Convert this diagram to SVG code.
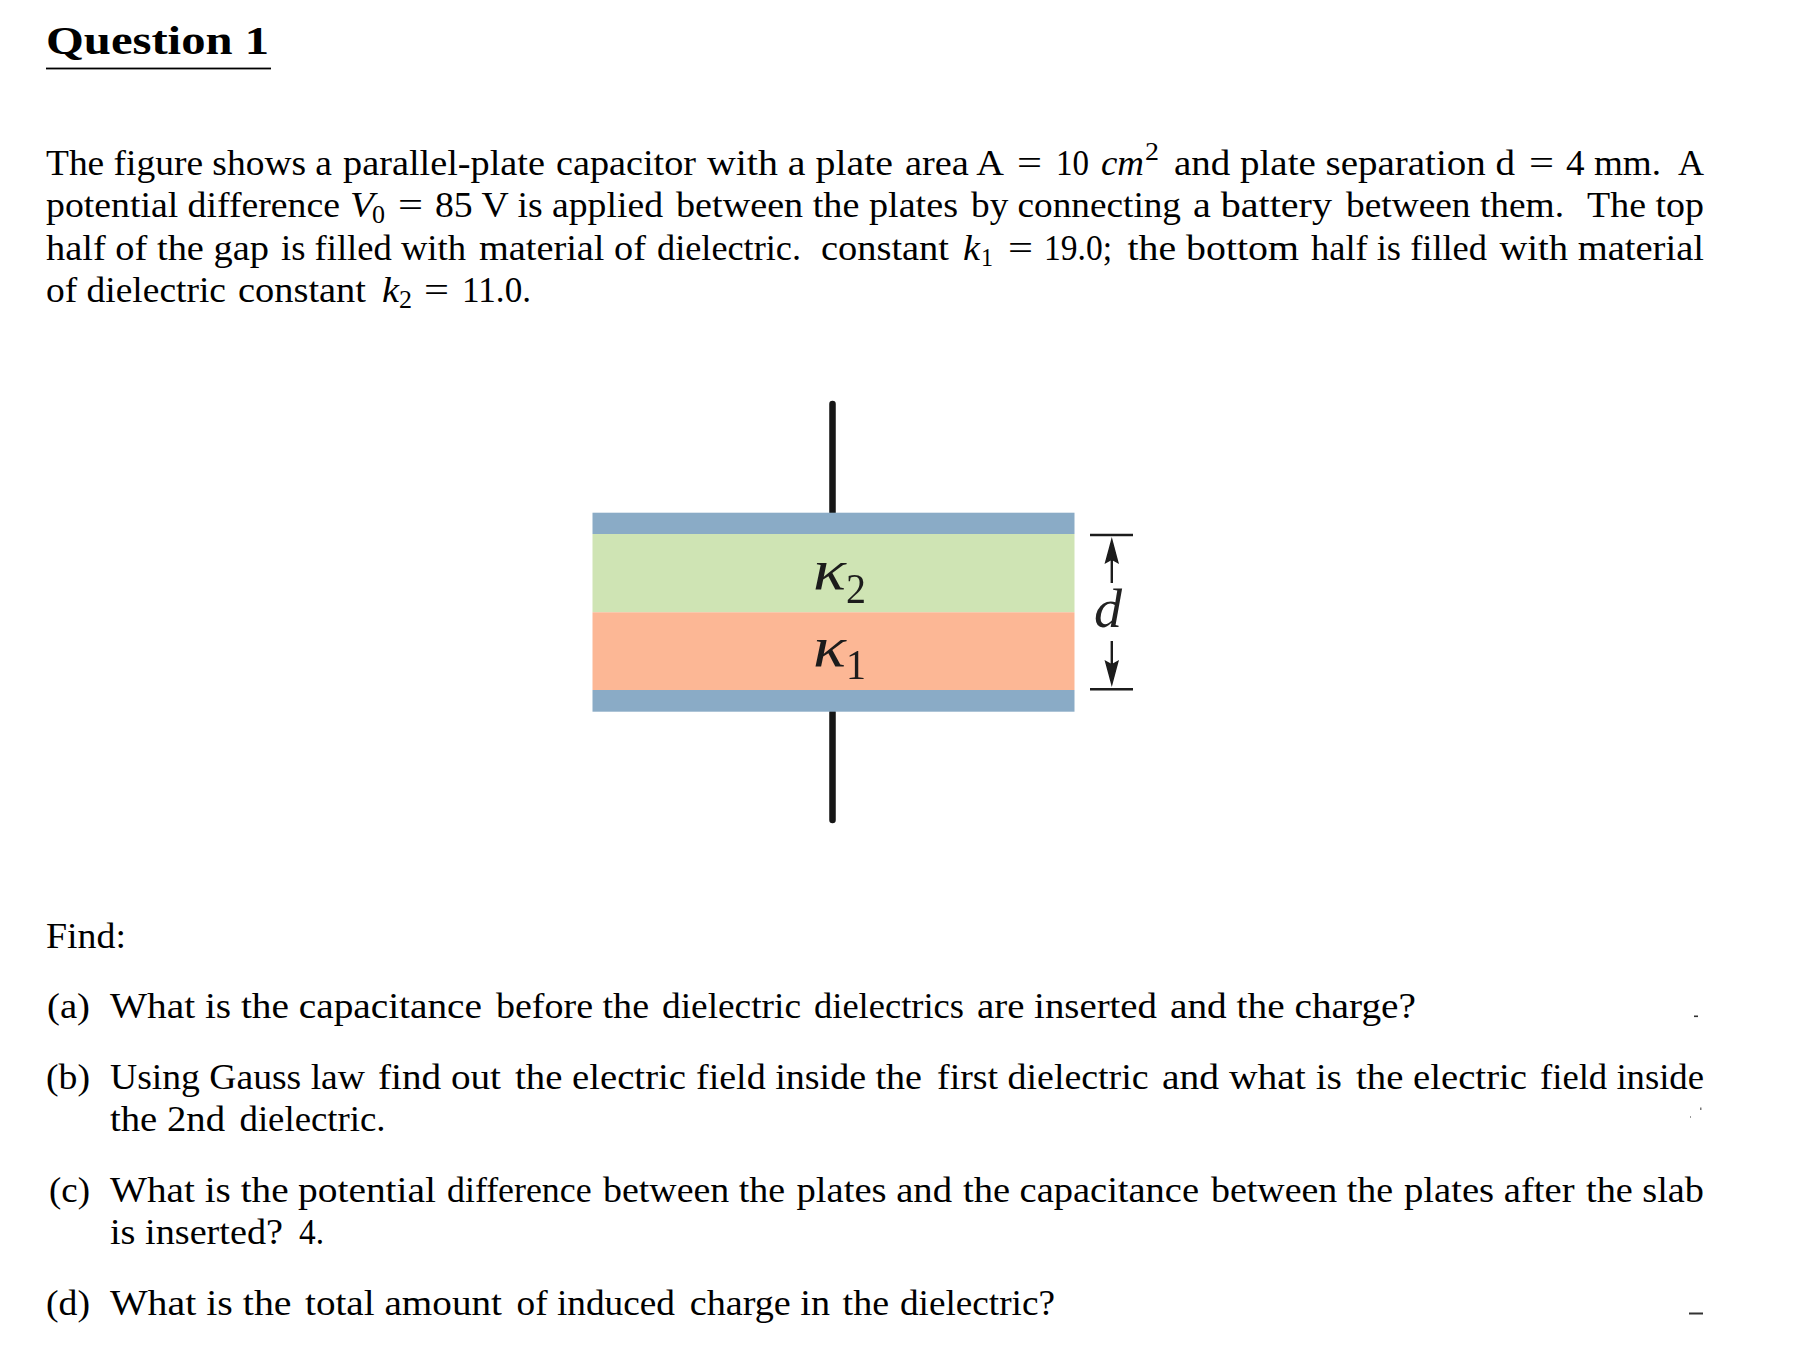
<svg xmlns="http://www.w3.org/2000/svg" width="1810" height="1346" viewBox="0 0 1810 1346">
<style>
text{font-family:"Liberation Serif","Times New Roman",serif;fill:#000;lengthAdjust:spacingAndGlyphs}
.b{font-size:35px}
.i{font-size:35px;font-style:italic}
.s{font-size:26px}
.t{font-size:41px;font-weight:bold}
.kap{font-size:58px;font-style:italic;fill:#1a1a1a}
.ksub{font-size:42px;fill:#1a1a1a}
.dlab{font-size:54px;font-style:italic;fill:#222}
.wire{stroke:#151515;stroke-width:6.5;stroke-linecap:round;fill:none}
.dim{stroke:#1a1a1a;stroke-width:2.4;fill:none}
.plate{fill:#8aabc6}
</style>
<defs><filter id="soft" x="-5%" y="-5%" width="110%" height="110%"><feGaussianBlur stdDeviation="0.55"/></filter></defs>
<rect width="1810" height="1346" fill="#fff"/>
<g id="title">
<text class="t" x="46" y="54" textLength="223" lengthAdjust="spacingAndGlyphs">Question 1</text>
<rect x="46" y="67.6" width="225" height="1.8" fill="#000"/>
</g>
<g id="statement">
<text class="b" x="46" y="175" textLength="286" lengthAdjust="spacingAndGlyphs">The figure shows a</text>
<text class="b" x="343" y="175" textLength="202" lengthAdjust="spacingAndGlyphs">parallel-plate</text>
<text class="b" x="556" y="175" textLength="140" lengthAdjust="spacingAndGlyphs">capacitor</text>
<text class="b" x="707" y="175" textLength="186" lengthAdjust="spacingAndGlyphs">with a plate</text>
<text class="b" x="905" y="175" textLength="99" lengthAdjust="spacingAndGlyphs">area A</text>
<text class="b" x="1017" y="175" textLength="25" lengthAdjust="spacingAndGlyphs">=</text>
<text class="b" x="1056" y="175" textLength="33" lengthAdjust="spacingAndGlyphs">10</text>
<text class="i" x="1101" y="175" textLength="43" lengthAdjust="spacingAndGlyphs">cm</text>
<text class="s" x="1145" y="160" textLength="14" lengthAdjust="spacingAndGlyphs">2</text>
<text class="b" x="1174" y="175" textLength="341" lengthAdjust="spacingAndGlyphs">and plate separation d</text>
<text class="b" x="1529" y="175" textLength="25" lengthAdjust="spacingAndGlyphs">=</text>
<text class="b" x="1566" y="175" textLength="95" lengthAdjust="spacingAndGlyphs">4 mm.</text>
<text class="b" x="1678" y="175" textLength="26" lengthAdjust="spacingAndGlyphs">A</text>

<text class="b" x="46" y="217.3" textLength="294" lengthAdjust="spacingAndGlyphs">potential difference</text>
<text class="i" x="350" y="217.3" textLength="24" lengthAdjust="spacingAndGlyphs">V</text>
<text class="s" x="372" y="223" textLength="13" lengthAdjust="spacingAndGlyphs">0</text>
<text class="b" x="398" y="217.3" textLength="25" lengthAdjust="spacingAndGlyphs">=</text>
<text class="b" x="435" y="217.3" textLength="228" lengthAdjust="spacingAndGlyphs">85 V is applied</text>
<text class="b" x="676" y="217.3" textLength="282" lengthAdjust="spacingAndGlyphs">between the plates</text>
<text class="b" x="971" y="217.3" textLength="210" lengthAdjust="spacingAndGlyphs">by connecting</text>
<text class="b" x="1193" y="217.3" textLength="139" lengthAdjust="spacingAndGlyphs">a battery</text>
<text class="b" x="1346" y="217.3" textLength="218" lengthAdjust="spacingAndGlyphs">between them.</text>
<text class="b" x="1587" y="217.3" textLength="117" lengthAdjust="spacingAndGlyphs">The top</text>

<text class="b" x="46" y="259.8" textLength="223" lengthAdjust="spacingAndGlyphs">half of the gap</text>
<text class="b" x="281" y="259.8" textLength="185" lengthAdjust="spacingAndGlyphs">is filled with</text>
<text class="b" x="479" y="259.8" textLength="167" lengthAdjust="spacingAndGlyphs">material of</text>
<text class="b" x="657" y="259.8" textLength="144" lengthAdjust="spacingAndGlyphs">dielectric.</text>
<text class="b" x="821" y="259.8" textLength="128" lengthAdjust="spacingAndGlyphs">constant</text>
<text class="i" x="963" y="259.8" textLength="17" lengthAdjust="spacingAndGlyphs">k</text>
<text class="s" x="981" y="266" textLength="12" lengthAdjust="spacingAndGlyphs">1</text>
<text class="b" x="1008" y="259.8" textLength="25" lengthAdjust="spacingAndGlyphs">=</text>
<text class="b" x="1044" y="259.8" textLength="68" lengthAdjust="spacingAndGlyphs">19.0;</text>
<text class="b" x="1127.5" y="259.8" textLength="171.5" lengthAdjust="spacingAndGlyphs">the bottom</text>
<text class="b" x="1311" y="259.8" textLength="176" lengthAdjust="spacingAndGlyphs">half is filled</text>
<text class="b" x="1499.5" y="259.8" textLength="204.5" lengthAdjust="spacingAndGlyphs">with material</text>

<text class="b" x="46" y="302" textLength="180" lengthAdjust="spacingAndGlyphs">of dielectric</text>
<text class="b" x="238" y="302" textLength="128" lengthAdjust="spacingAndGlyphs">constant</text>
<text class="i" x="382" y="302" textLength="17" lengthAdjust="spacingAndGlyphs">k</text>
<text class="s" x="399" y="308" textLength="13" lengthAdjust="spacingAndGlyphs">2</text>
<text class="b" x="424" y="302" textLength="25" lengthAdjust="spacingAndGlyphs">=</text>
<text class="b" x="462" y="302" textLength="69" lengthAdjust="spacingAndGlyphs">11.0.</text>
</g>
<g id="capacitor" filter="url(#soft)">
<g id="connectors">
<line class="wire" x1="832.5" y1="404" x2="832.5" y2="513"/>
<line class="wire" x1="832.5" y1="712" x2="832.5" y2="820"/>
</g>
<g id="dielectric-k2">
<rect x="592.5" y="534" width="482" height="78.3" fill="#cfe4b4"/>
<text class="kap" x="813" y="589" textLength="33" lengthAdjust="spacingAndGlyphs">κ</text>
<text class="ksub" x="846" y="603.3" textLength="20" lengthAdjust="spacingAndGlyphs">2</text>
</g>
<g id="dielectric-k1">
<rect x="592.5" y="612.3" width="482" height="77.7" fill="#fcb795"/>
<text class="kap" x="813" y="666" textLength="33" lengthAdjust="spacingAndGlyphs">κ</text>
<text class="ksub" x="846" y="679.3" textLength="20" lengthAdjust="spacingAndGlyphs">1</text>
</g>
<g id="top-plate"><rect class="plate" x="592.5" y="512.7" width="482" height="21.3"/></g>
<g id="bottom-plate"><rect class="plate" x="592.5" y="690" width="482" height="21.7"/></g>
<g id="dimension-d">
<line class="dim" x1="1090" y1="535" x2="1133" y2="535"/>
<line class="dim" x1="1090" y1="689.3" x2="1133" y2="689.3"/>
<line class="dim" x1="1111.8" y1="555" x2="1111.8" y2="583"/>
<line class="dim" x1="1111.8" y1="641" x2="1111.8" y2="668"/>
<polygon points="1111.8,537 1119,564 1111.8,560 1104.5,564" fill="#1a1a1a"/>
<polygon points="1111.8,687 1119,660 1111.8,664 1104.5,660" fill="#1a1a1a"/>
<text class="dlab" x="1094" y="627" textLength="28" lengthAdjust="spacingAndGlyphs">d</text>
</g>
</g>
<g id="questions">
<text class="b" x="46" y="948" textLength="80" lengthAdjust="spacingAndGlyphs">Find:</text>
<text class="b" x="47" y="1017.5" textLength="43" lengthAdjust="spacingAndGlyphs">(a)</text>
<text class="b" x="110" y="1017.5" textLength="372" lengthAdjust="spacingAndGlyphs">What is the capacitance</text>
<text class="b" x="496" y="1017.5" textLength="153" lengthAdjust="spacingAndGlyphs">before the</text>
<text class="b" x="662" y="1017.5" textLength="139" lengthAdjust="spacingAndGlyphs">dielectric</text>
<text class="b" x="814" y="1017.5" textLength="150" lengthAdjust="spacingAndGlyphs">dielectrics</text>
<text class="b" x="977" y="1017.5" textLength="180" lengthAdjust="spacingAndGlyphs">are inserted</text>
<text class="b" x="1170" y="1017.5" textLength="246" lengthAdjust="spacingAndGlyphs">and the charge?</text>

<text class="b" x="46" y="1089" textLength="44" lengthAdjust="spacingAndGlyphs">(b)</text>
<text class="b" x="110" y="1089" textLength="255" lengthAdjust="spacingAndGlyphs">Using Gauss law</text>
<text class="b" x="378" y="1089" textLength="123" lengthAdjust="spacingAndGlyphs">find out</text>
<text class="b" x="515" y="1089" textLength="171" lengthAdjust="spacingAndGlyphs">the electric</text>
<text class="b" x="696" y="1089" textLength="226" lengthAdjust="spacingAndGlyphs">field inside the</text>
<text class="b" x="937" y="1089" textLength="211.6" lengthAdjust="spacingAndGlyphs">first dielectric</text>
<text class="b" x="1162" y="1089" textLength="180" lengthAdjust="spacingAndGlyphs">and what is</text>
<text class="b" x="1356" y="1089" textLength="171" lengthAdjust="spacingAndGlyphs">the electric</text>
<text class="b" x="1540" y="1089" textLength="164" lengthAdjust="spacingAndGlyphs">field inside</text>
<text class="b" x="110" y="1131" textLength="115" lengthAdjust="spacingAndGlyphs">the 2nd</text>
<text class="b" x="239.5" y="1131" textLength="146" lengthAdjust="spacingAndGlyphs">dielectric.</text>

<text class="b" x="49" y="1202" textLength="41" lengthAdjust="spacingAndGlyphs">(c)</text>
<text class="b" x="110" y="1202" textLength="178.6" lengthAdjust="spacingAndGlyphs">What is the</text>
<text class="b" x="298" y="1202" textLength="138" lengthAdjust="spacingAndGlyphs">potential</text>
<text class="b" x="447" y="1202" textLength="144.6" lengthAdjust="spacingAndGlyphs">difference</text>
<text class="b" x="603" y="1202" textLength="182" lengthAdjust="spacingAndGlyphs">between the</text>
<text class="b" x="796.5" y="1202" textLength="155.5" lengthAdjust="spacingAndGlyphs">plates and</text>
<text class="b" x="963" y="1202" textLength="236" lengthAdjust="spacingAndGlyphs">the capacitance</text>
<text class="b" x="1211" y="1202" textLength="182" lengthAdjust="spacingAndGlyphs">between the</text>
<text class="b" x="1404" y="1202" textLength="170.5" lengthAdjust="spacingAndGlyphs">plates after</text>
<text class="b" x="1586" y="1202" textLength="118" lengthAdjust="spacingAndGlyphs">the slab</text>
<text class="b" x="110" y="1243.7" textLength="173" lengthAdjust="spacingAndGlyphs">is inserted?</text>
<text class="b" x="299" y="1243.7" textLength="25" lengthAdjust="spacingAndGlyphs">4.</text>

<text class="b" x="46" y="1315.3" textLength="44" lengthAdjust="spacingAndGlyphs">(d)</text>
<text class="b" x="110" y="1315.3" textLength="181.5" lengthAdjust="spacingAndGlyphs">What is the</text>
<text class="b" x="305" y="1315.3" textLength="197" lengthAdjust="spacingAndGlyphs">total amount</text>
<text class="b" x="516.6" y="1315.3" textLength="158.4" lengthAdjust="spacingAndGlyphs">of induced</text>
<text class="b" x="689.7" y="1315.3" textLength="140.3" lengthAdjust="spacingAndGlyphs">charge in</text>
<text class="b" x="842.6" y="1315.3" textLength="46.4" lengthAdjust="spacingAndGlyphs">the</text>
<text class="b" x="900" y="1315.3" textLength="155" lengthAdjust="spacingAndGlyphs">dielectric?</text>
</g>
<g id="specks" fill="#333">
<rect x="1694" y="1015.5" width="4" height="1.6"/>
<rect x="1700" y="1107.5" width="1.5" height="2.5" fill="#777"/>
<rect x="1690" y="1116" width="1" height="2" fill="#999"/>
<rect x="1689" y="1312.5" width="14" height="2"/>
</g>
</svg>
